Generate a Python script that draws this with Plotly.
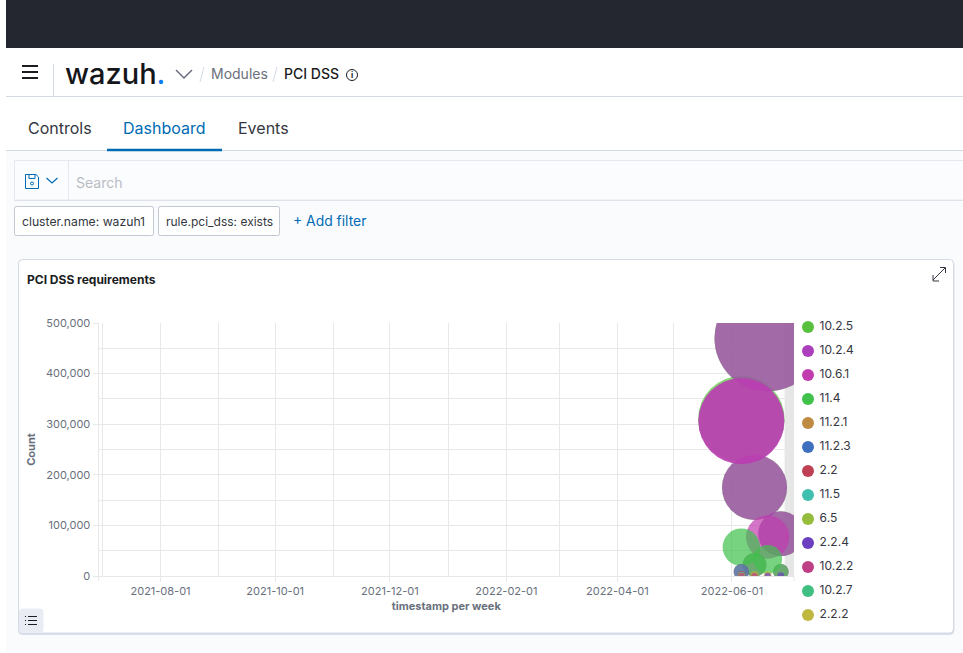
import math
import plotly.graph_objects as go

W, H = 963, 653

# weekly buckets that actually hold data
weeks = ["2022-06-06", "2022-06-13", "2022-06-20", "2022-06-27"]

requirements = ["10.2.5", "10.2.4", "10.6.1", "11.4", "11.2.1", "11.2.3", "2.2",
                "11.5", "6.5", "2.2.4", "10.2.2", "10.2.7", "2.2.2"]
colors = ["#57c13f", "#ac3fbc", "#c13caf", "#3fc14c", "#bf8a42", "#3f70bf", "#bf3f54",
          "#3fbfad", "#96bc3c", "#6b3fbf", "#bf3f87", "#3fbf80", "#c0b83e"]

r_10_2_5 = [310000, 175000, 470000, 83500]
r_10_2_4 = [306000, 175000, 470000, 83500]
r_10_6_1 = [306000, 22000, 77000, 8500]
r_11_4 = [57000, 22000, 33000, 8500]
r_11_2_1 = [8500, None, None, None]
r_11_2_3 = [8500, None, None, None]
r_2_2 = [1400, None, None, None]
r_11_5 = [900, None, None, None]
r_6_5 = [500, None, None, None]
r_2_2_4 = [None, None, 200, 450]
r_10_2_2 = [100, 150, None, None]
r_10_2_7 = [None, None, None, None]
r_2_2_2 = [None, 1200, 1200, None]

counts = [r_10_2_5, r_10_2_4, r_10_6_1, r_11_4, r_11_2_1, r_11_2_3, r_2_2,
          r_11_5, r_6_5, r_2_2_4, r_10_2_2, r_10_2_7, r_2_2_2]

y_ticks = [0, 100000, 200000, 300000, 400000, 500000]


def px(x):
    return x / W


def py(y):
    return 1 - y / H


def diameter(v):
    # kibana bubble scale, area grows with count from a minimum size
    return 2 * math.sqrt(6 * v / 1000 + 9) if v is not None else 0


def box(x0, y0, x1, y1, fill=None, line=None, lw=1):
    return dict(type="rect", xref="paper", yref="paper", layer="below",
                x0=px(x0), x1=px(x1), y0=py(y0), y1=py(y1),
                fillcolor=fill or "rgba(0,0,0,0)",
                line=dict(color=line or "rgba(0,0,0,0)", width=lw if line else 0))


def seg(points, color, lw=1, fill=None, layer="below", close=False):
    p = "M" + " L".join(f"{px(a):.5f},{py(b):.5f}" for a, b in points) + (" Z" if close else "")
    return dict(type="path", xref="paper", yref="paper", layer=layer, path=p,
                line=dict(color=color, width=lw), fillcolor=fill or "rgba(0,0,0,0)")


def rounded(x0, y0, x1, y1, r, fill, line):
    p = (f"M{px(x0 + r)},{py(y0)} L{px(x1 - r)},{py(y0)} Q{px(x1)},{py(y0)} {px(x1)},{py(y0 + r)} "
         f"L{px(x1)},{py(y1 - r)} Q{px(x1)},{py(y1)} {px(x1 - r)},{py(y1)} "
         f"L{px(x0 + r)},{py(y1)} Q{px(x0)},{py(y1)} {px(x0)},{py(y1 - r)} "
         f"L{px(x0)},{py(y0 + r)} Q{px(x0)},{py(y0)} {px(x0 + r)},{py(y0)} Z")
    return dict(type="path", xref="paper", yref="paper", layer="below", path=p,
                fillcolor=fill, line=dict(color=line, width=1))


def label(x, y, text, size=14, color="#343741", anchor="left", weight=None, family="Inter"):
    return dict(xref="paper", yref="paper", x=px(x), y=py(y), text=text, showarrow=False,
                xanchor=anchor, yanchor="middle", borderpad=0, borderwidth=0,
                font=dict(family=family, size=size, color=color, weight=weight))


fig = go.Figure()

# biggest series first so the tiny ones stay visible on top
series = sorted(zip(requirements, colors, counts),
                key=lambda s: -sum(v or 0 for v in s[2]))
for name, color, vals in series:
    fig.add_trace(go.Scatter(
        x=weeks, y=vals, name=name, mode="markers", showlegend=False,
        marker=dict(color=color, opacity=0.7, line=dict(width=0),
                    size=[diameter(v) for v in vals], sizemode="diameter"),
    ))

# legend column, on its own little axes so the swatches sit tight to the labels
fig.add_trace(go.Scatter(
    x=[8] * len(requirements), y=requirements, mode="markers", xaxis="x2", yaxis="y2",
    marker=dict(color=colors, size=12), showlegend=False, hoverinfo="skip",
))
fig.add_trace(go.Scatter(
    x=[19.6] * len(requirements), y=requirements, mode="text", xaxis="x2", yaxis="y2",
    text=requirements, textposition="middle right", showlegend=False, hoverinfo="skip",
    textfont=dict(family="Inter", size=12, color="#343741"),
))

grid = "#e8e8e8"
fig.update_layout(
    width=W, height=H, margin=dict(l=0, r=0, t=0, b=0), autosize=False,
    paper_bgcolor="#ffffff", plot_bgcolor="rgba(0,0,0,0)",
    showlegend=False, hovermode="closest",
    xaxis=dict(
        domain=[px(98.5), px(794)], range=["2021-06-29", "2022-07-04"], type="date",
        automargin=False,
        tick0="2021-08-01", dtick="M2", tickformat="%Y-%m-%d",
        showgrid=True, gridcolor=grid, gridwidth=1,
        minor=dict(dtick="M1", tick0="2021-07-01", showgrid=True, gridcolor=grid, gridwidth=1),
        ticks="outside", ticklen=5, tickcolor=grid, zeroline=False,
        showline=True, linecolor=grid, linewidth=1,
        tickfont=dict(family="Inter", size=11, color="#69707d"),
        title=dict(text="timestamp per week", standoff=5,
                   font=dict(family="Inter", size=11, color="#69707d", weight="bold")),
    ),
    yaxis=dict(
        domain=[py(576), py(323)], range=[0, 500000], tickvals=y_ticks, tickformat=",d",
        automargin=False,
        showgrid=True, gridcolor=grid, gridwidth=1,
        minor=dict(dtick=50000, showgrid=True, gridcolor=grid, gridwidth=1),
        ticks="outside", ticklen=5, tickcolor=grid, zeroline=False,
        showline=True, linecolor=grid, linewidth=1,
        tickfont=dict(family="Inter", size=11, color="#69707d"),
        title=dict(text="Count", standoff=8,
                   font=dict(family="Inter", size=11, color="#69707d", weight="bold")),
    ),
    xaxis2=dict(domain=[px(800), px(960)], range=[0, 160], visible=False, fixedrange=True,
                automargin=False),
    yaxis2=dict(domain=[py(627), py(315)], type="category", range=[12.5, -0.5],
                visible=False, fixedrange=True, anchor="x2", automargin=False),
)

blue = "#006bb4"
border = "#d3dae6"
shapes = [
    box(6, 0, W, 48, fill="#24272f"),
    box(6, 151, W, H, fill="#fafbfd"),
    # header
    seg([(22, 66), (38, 66)], "#1a1c21", 2), seg([(22, 72), (38, 72)], "#1a1c21", 2),
    seg([(22, 78), (38, 78)], "#1a1c21", 2),
    seg([(53.5, 64), (53.5, 96)], border),
    seg([(6, 96.5), (W, 96.5)], border),
    seg([(176, 70), (184, 78), (192, 70)], "#69707d", 1.5),
    seg([(204, 67), (200, 82)], border), seg([(277, 67), (273, 82)], border),
    dict(type="circle", xref="paper", yref="paper", layer="below", x0=px(346.5), x1=px(357.5),
         y0=py(80.5), y1=py(69.5), line=dict(color="#1a1c21", width=1)),
    # tabs
    seg([(6, 150.5), (W, 150.5)], border),
    seg([(107, 150), (222, 150)], blue, 2.5),
    # search bar
    box(14.5, 160.5, W + 2, 200, fill="#fbfcfd", line="#e4e8f0"),
    seg([(14, 200.5), (W, 200.5)], "#dde2eb", 1),
    seg([(68.5, 161), (68.5, 200)], "#e4e8f0"),
    seg([(25.5, 174.5), (36, 174.5), (38.5, 177), (38.5, 188.5), (25.5, 188.5)], blue, 1, close=True),
    seg([(29, 175), (29, 178.5), (35, 178.5), (35, 175)], blue, 1),
    dict(type="circle", xref="paper", yref="paper", layer="below", x0=px(30.5), x1=px(33.5),
         y0=py(185), y1=py(182), line=dict(color=blue, width=1)),
    seg([(46.5, 178), (52, 183), (57.5, 178)], blue, 1.2),
    # filter pills
    rounded(14.5, 206.5, 153.5, 235.5, 2, "#ffffff", "#c2c8d2"),
    rounded(158.5, 206.5, 279.5, 235.5, 2, "#ffffff", "#c2c8d2"),
    # panel
    rounded(18.5, 260, 954, 634.5, 4, "#d9deea", "#d9deea"),
    rounded(18.5, 259.5, 953.5, 633, 4, "#ffffff", border),
    # expand icon
    seg([(933, 280), (945, 268)], "#343741", 1),
    seg([(933, 275), (933, 281), (939, 281)], "#343741", 1),
    seg([(940, 267.5), (945.5, 267.5), (945.5, 273)], "#343741", 1),
    # legend toggle button
    rounded(19.5, 609, 43, 632.5, 3, "#e9edf3", "#e9edf3"),
    seg([(28, 616.5), (37, 616.5)], "#1a1c21"), seg([(28, 620.5), (37, 620.5)], "#1a1c21"),
    seg([(28, 624.5), (37, 624.5)], "#1a1c21"),
    seg([(25, 616.5), (26, 616.5)], "#1a1c21"), seg([(25, 620.5), (26, 620.5)], "#1a1c21"),
    seg([(25, 624.5), (26, 624.5)], "#1a1c21"),
    # chart extras: axis end ticks
    seg([(98.5, 576), (98.5, 581)], grid), seg([(794, 576), (794, 581)], grid),
    # band at the end of the time range, still filling up
    dict(type="rect", xref="x", yref="y", layer="below", x0="2022-06-29", x1="2022-07-04",
         y0=0, y1=500000, fillcolor="#e6e6e6", line=dict(width=0)),
]

annotations = [
    label(65, 73, 'wazuh<span style="color:#0a7cf0">.</span>', size=29, color="#14161a", weight=500),
    label(211, 73.5, "Modules", size=14, color="#69707d"),
    label(284, 73.5, "PCI DSS", size=14, color="#1a1c21", weight=500),
    label(352, 75, "i", size=8, color="#1a1c21", anchor="center", weight=700),
    label(28, 128, "Controls", size=16, color="#343741"),
    label(123, 128, "Dashboard", size=16, color=blue),
    label(238, 128, "Events", size=16, color="#343741"),
    label(76, 183, "Search", size=14, color="#b8bcc4"),
    label(22, 221.5, "cluster.name: wazuh1", size=12.2, color="#343741"),
    label(166, 221.5, "rule.pci_dss: exists", size=12, color="#343741"),
    label(293, 220.5, "+ Add filter", size=13.9, color=blue),
    label(27, 280, "PCI DSS requirements", size=12, color="#1a1c21", weight=700),
]
fig.update_layout(shapes=shapes, annotations=annotations)

fig.write_html("out.html", config=dict(displayModeBar=False),
               post_script="document.body.style.margin='0';")
